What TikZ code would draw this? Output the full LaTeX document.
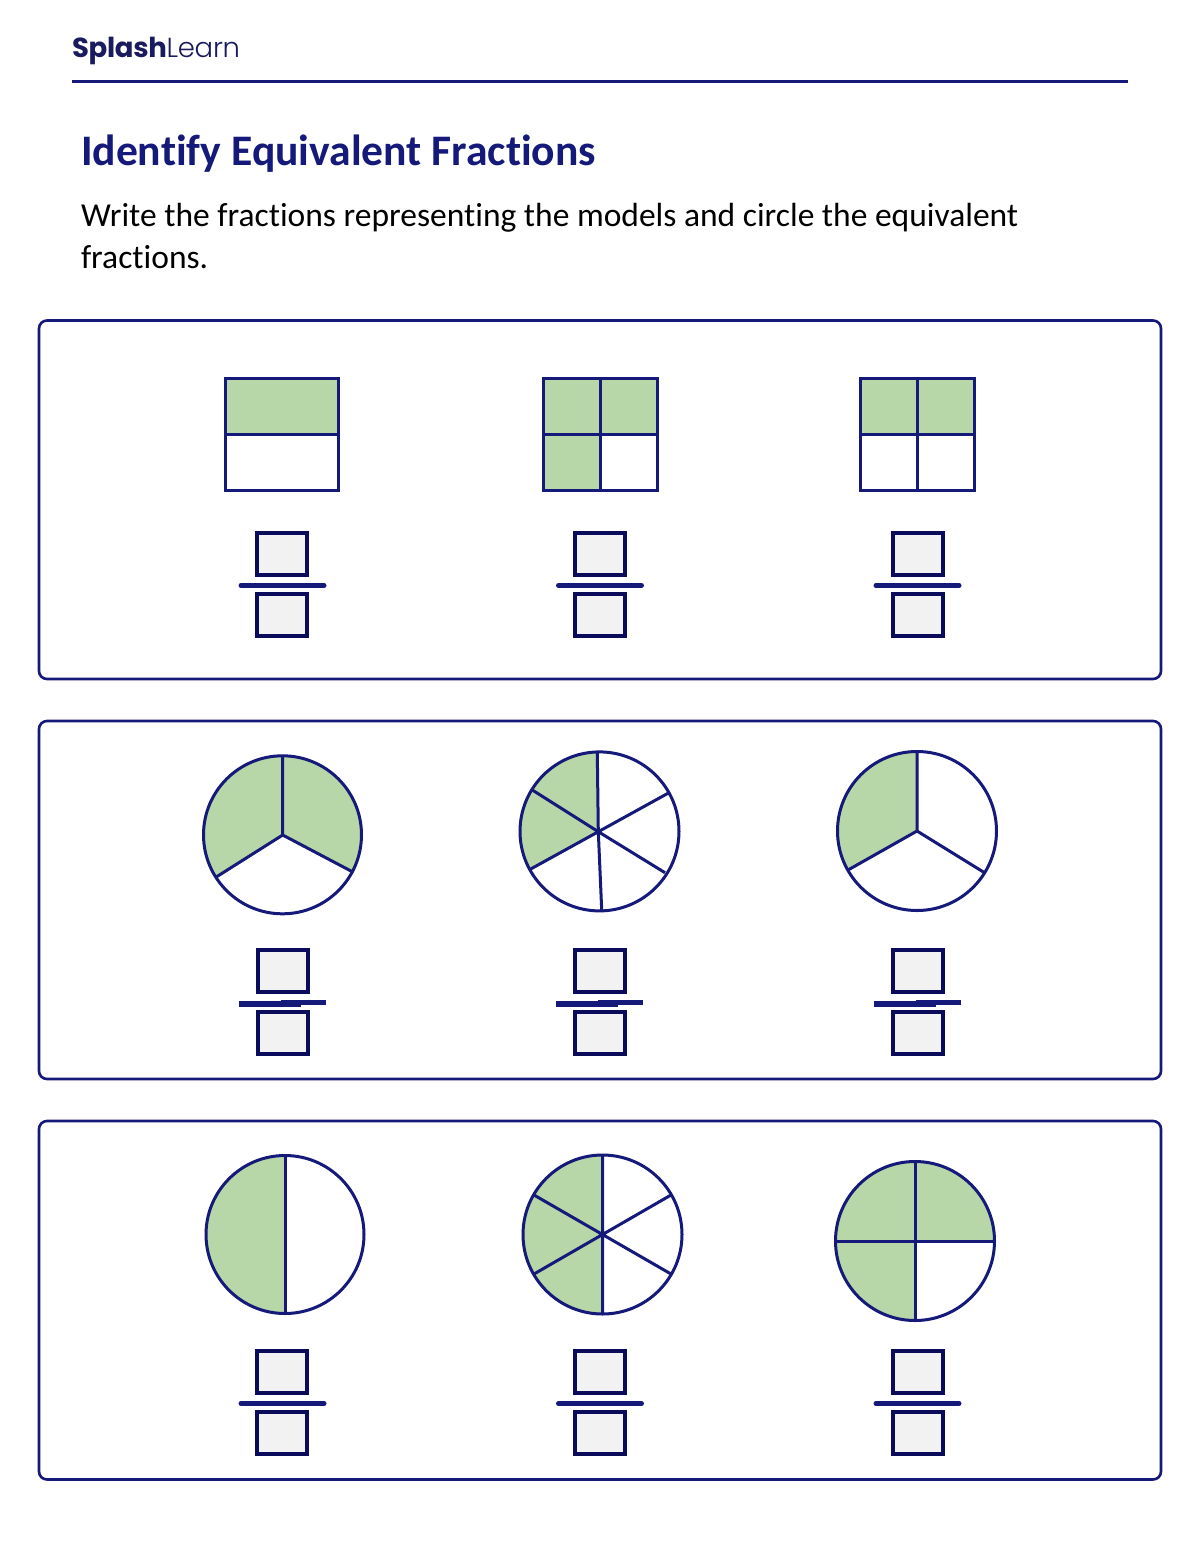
\documentclass[tikz,border=0pt]{standalone}
\usepackage{fontspec}
\setmainfont{Carlito}[RawFeature=-liga]
\newfontfamily\logofont{Poppins}
\definecolor{navy}{HTML}{14197A}
\definecolor{boxnavy}{HTML}{0B0B5C}
\definecolor{logonavy}{HTML}{1A1A5E}
\definecolor{modelgreen}{HTML}{B7D7A8}
\definecolor{boxfill}{HTML}{F2F2F2}
\tikzset{
  panel/.style={draw=navy,line width=2.6pt,rounded corners=8pt,fill=white},
  modelline/.style={draw=navy,line width=3pt},
  answerbox/.style={draw=boxnavy,line width=4pt,fill=boxfill},
  fracbar/.style={draw=navy,line width=5pt,line cap=round},
  splitbar/.style={draw=navy,line width=5.4pt},
  txt/.style={anchor=base west,inner sep=0pt,outer sep=0pt},
}
% answer pair: centre x, top box top, top box bottom, bottom box top, bottom box bottom
\newcommand{\answerpair}[5]{%
  \draw[answerbox] (#1-25,#2) rectangle (#1+25,#3);
  \draw[answerbox] (#1-25,#4) rectangle (#1+25,#5);
}
% filled wedge: centre, radius, polygon
\newcommand{\circlefill}[3]{%
  \begin{scope}\clip (#1) circle[radius=#2];
  \fill[modelgreen] #3;
  \end{scope}%
}
\begin{document}
\begin{tikzpicture}[x=1pt,y=-1pt]
\useasboundingbox (0,0) rectangle (1200,1553);
\fill[white] (0,0) rectangle (1200,1553);

% header
\node[txt,text=logonavy] (logo) at (72,57) {\fontsize{27.5}{30}\selectfont\logofont\addfontfeature{LetterSpace=-1}\textbf{Splash}{\fontspec{Poppins Light}[LetterSpace=-1]Learn}};
\coordinate (ruleL) at (72,81.5);
\coordinate (ruleR) at (1128,81.5);
\draw[navy,line width=2.6pt] (ruleL) -- (ruleR);
\node[txt,text=navy] (title) at (81,165) {\fontsize{43.6}{50}\selectfont\bfseries Identify Equivalent Fractions};
\node[txt] (line1) at (81,226.2) {\fontsize{33.5}{40}\selectfont Write the fractions representing the models and circle the equivalent};
\node[txt] (line2) at (81,268.7) {\fontsize{33.5}{40}\selectfont fractions.};

% panels
\draw[panel] (39,320.5) rectangle (1161,679);
\draw[panel] (39,721) rectangle (1161,1079);
\draw[panel] (39,1121) rectangle (1161,1479.5);

% row 1 squares
\fill[modelgreen] (225.5,378) rectangle (338,434);
\draw[modelline] (225.5,378) rectangle (338,490) (225.5,434) -- (338,434);
\fill[modelgreen] (543,378) rectangle (657,434) (543,434) rectangle (600,490);
\draw[modelline] (543,378) rectangle (657,490) (543,434) -- (657,434) (600,378) -- (600,490);
\fill[modelgreen] (860.5,378) rectangle (974.5,434);
\draw[modelline] (860.5,378) rectangle (974.5,490) (860.5,434) -- (974.5,434) (917.5,378) -- (917.5,490);

\answerpair{282.3}{533}{575}{594}{636}
\answerpair{600}{533}{575}{594}{636}
\answerpair{917.5}{533}{575}{594}{636}
\draw[fracbar] (241,585.5) -- (324,585.5);
\draw[fracbar] (558.5,585.5) -- (641.5,585.5);
\draw[fracbar] (876,585.5) -- (959,585.5);

% row 2 circles
\circlefill{282.5,834.8}{79}{(282.7,835) -- (216,877) -- (150,800) -- (200,700) -- (380,700) -- (400,896) -- (282.7,835) -- cycle}
\draw[modelline] (282.5,834.8) circle[radius=79];
\draw[modelline] (282.7,756) -- (282.7,835) (352.3,871.7) -- (282.7,835) -- (216.7,876.7);

\circlefill{599.5,831.4}{79.5}{(598.3,831.7) -- (597.3,700) -- (480,700) -- (480,895) -- cycle}
\draw[modelline] (599.5,831.4) circle[radius=79.5];
\draw[modelline] (597.3,752.7) -- (598.3,831.7) -- (601.7,910)
  (669,792.7) -- (598.3,831.7) -- (530.7,869)
  (532.3,790) -- (598.3,831.7) -- (665,872.7);

\circlefill{917,831}{79.5}{(917,831) -- (917,700) -- (780,700) -- (780,909) -- cycle}
\draw[modelline] (917,831) circle[radius=79.5];
\draw[modelline] (917,752) -- (917,831) (985,873) -- (917,831) -- (848,870);

\answerpair{282.5}{949.5}{992}{1011.5}{1054}
\answerpair{600}{949.5}{992}{1011.5}{1054}
\answerpair{917.5}{949.5}{992}{1011.5}{1054}
\foreach \cx in {282.5,600,917.5}{
  \draw[splitbar] (\cx-44,1003.8) -- (\cx+18,1003.8);
  \draw[splitbar] (\cx-2,1002.2) -- (\cx+43,1002.2);
}

% row 3 circles
\circlefill{285,1234.5}{79}{(285,1100) rectangle (150,1350)}
\draw[modelline] (285,1234.5) circle[radius=79];
\draw[modelline] (285,1155.5) -- (285,1313.5);

\circlefill{602.5,1234.5}{79.5}{(602.5,1100) rectangle (480,1350)}
\draw[modelline] (602.5,1234.5) circle[radius=79.5];
\draw[modelline] (602.5,1155) -- (602.5,1314)
  (534,1195) -- (671,1274) (534,1274) -- (671,1195);

\circlefill{915,1241}{79.5}{(915,1100) rectangle (800,1400) (915,1100) rectangle (1040,1241)}
\draw[modelline] (915,1241) circle[radius=79.5];
\draw[modelline] (915,1161.5) -- (915,1320.5) (835.5,1241) -- (994.5,1241);

\answerpair{282.3}{1351}{1393}{1412}{1454}
\answerpair{600}{1351}{1393}{1412}{1454}
\answerpair{917.5}{1351}{1393}{1412}{1454}
\draw[fracbar] (241,1403.5) -- (324,1403.5);
\draw[fracbar] (558.5,1403.5) -- (641.5,1403.5);
\draw[fracbar] (876,1403.5) -- (959,1403.5);
\end{tikzpicture}
\end{document}
